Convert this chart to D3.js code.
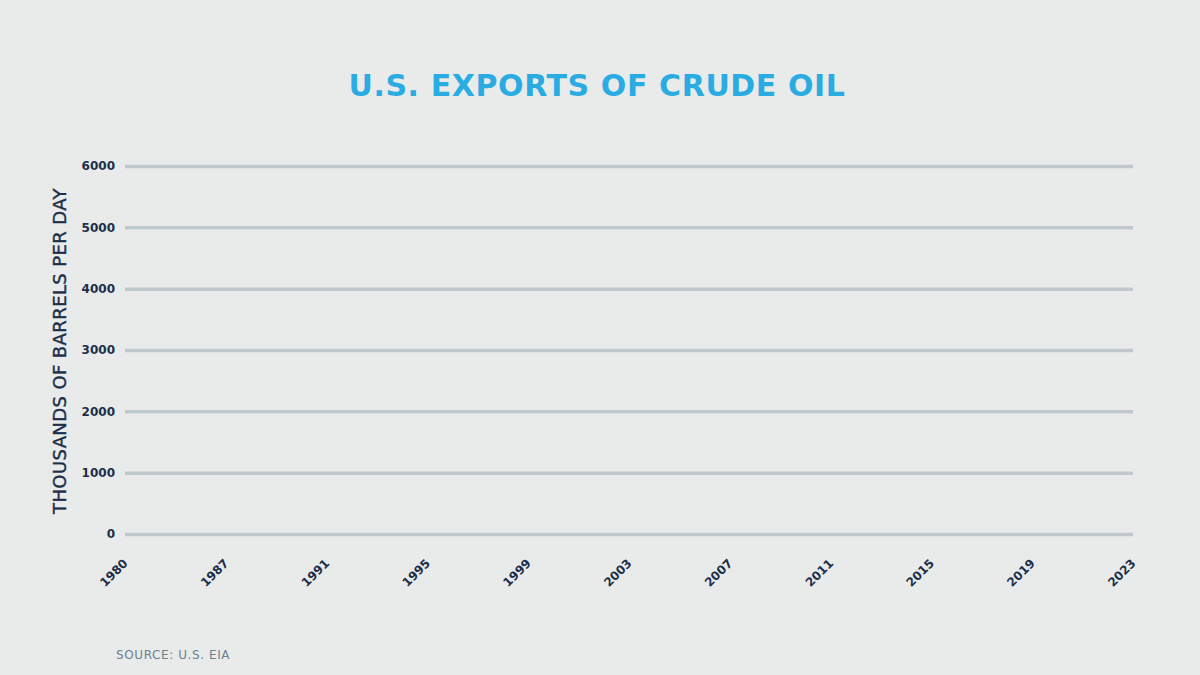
<!DOCTYPE html>
<html>
<head>
<meta charset="utf-8">
<script src="https://cdn.jsdelivr.net/npm/d3@7"></script>
<style>
  body { margin: 0; background: #e9ebea; }
  svg { display: block; }
  text { font-family: "DejaVu Sans", sans-serif; }
</style>
</head>
<body>
<div id="app"></div>
<script>
// categories on the x axis (1980, then 1984..2023), every 4th labelled
var years = [1980].concat(d3.range(1984, 2024));
var tickYears = [1980, 1987, 1991, 1995, 1999, 2003, 2007, 2011, 2015, 2019, 2023];
var yTicks = [0, 1000, 2000, 3000, 4000, 5000, 6000];
// no export values are plotted in the reference
var exportsValues = [];

var width = 1200, height = 675;
var margin = {left: 125, right: 67, top: 166, bottom: 141};

var svg = d3.select('#app').append('svg')
  .attr('width', width)
  .attr('height', height);

svg.append('rect').attr('width', width).attr('height', height).attr('fill', '#e9ebea');

var x = d3.scalePoint()
  .domain(years)
  .range([margin.left, width - margin.right]);

var y = d3.scaleLinear()
  .domain([0, 6000])
  .range([height - margin.bottom, margin.top]);

// title
svg.append('text')
  .attr('x', 597)
  .attr('y', 96)
  .attr('text-anchor', 'middle')
  .attr('fill', '#2aace2')
  .style('font-size', '30px')
  .style('font-weight', 'bold')
  .style('letter-spacing', '0.6px')
  .text('U.S. EXPORTS OF CRUDE OIL');

// grid
var yAxis = d3.axisLeft(y)
  .tickValues(yTicks)
  .tickSize(-(width - margin.left - margin.right))
  .tickPadding(10)
  .tickFormat(d3.format('d'));

var gy = svg.append('g')
  .attr('transform', 'translate(' + margin.left + ',0)')
  .call(yAxis);
gy.select('.domain').remove();
gy.selectAll('.tick line')
  .attr('stroke', '#c0c8cb')
  .attr('stroke-width', 3.5);
gy.selectAll('.tick text')
  .attr('fill', '#1b2f4a')
  .style('font-size', '12px')
  .style('font-weight', 'bold')
  .attr('dy', '0.32em');

// x axis labels
var xAxis = d3.axisBottom(x)
  .tickValues(tickYears)
  .tickSize(0)
  .tickPadding(0);

var gx = svg.append('g')
  .attr('transform', 'translate(0,' + (height - margin.bottom) + ')')
  .call(xAxis);
gx.select('.domain').remove();
gx.selectAll('.tick text')
  .attr('fill', '#1b2f4a')
  .style('font-size', '12px')
  .style('font-weight', 'bold')
  .attr('text-anchor', 'end')
  .attr('dy', 0)
  .attr('transform', 'translate(3,30) rotate(-45)');

// series (empty in reference)
svg.append('path')
  .datum(exportsValues)
  .attr('fill', 'none')
  .attr('stroke', '#2aace2')
  .attr('stroke-width', 3)
  .attr('d', d3.line().x(function(d) { return x(d.year); }).y(function(d) { return y(d.value); }));

// y axis title
svg.append('text')
  .attr('transform', 'translate(66,351) rotate(-90)')
  .attr('text-anchor', 'middle')
  .attr('fill', '#1b2f4a')
  .style('font-size', '18px')
  .style('letter-spacing', '0.4px')
  .style('stroke', '#1b2f4a')
  .style('stroke-width', '0.4px')
  .text('THOUSANDS OF BARRELS PER DAY');

// source
svg.append('text')
  .attr('x', 116)
  .attr('y', 659)
  .attr('fill', '#6b7f90')
  .style('font-size', '12px')
  .style('letter-spacing', '0.6px')
  .text('SOURCE: U.S. EIA');
</script>
</body>
</html>
